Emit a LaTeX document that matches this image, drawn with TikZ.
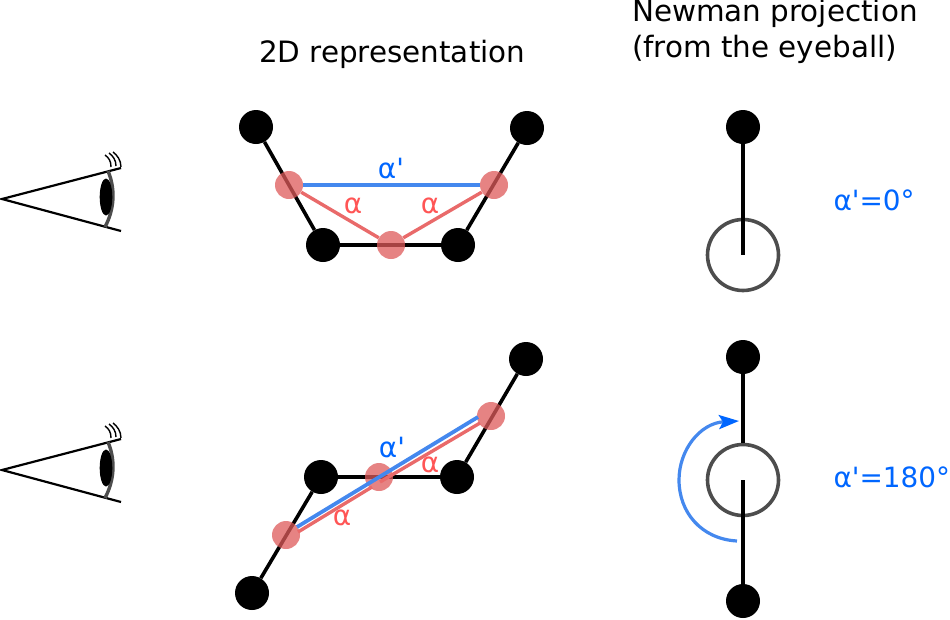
\documentclass[tikz,border=0pt]{standalone}
\usepackage{fontspec}
\setmainfont{DejaVu Sans}
\font\labelfont="DejaVu Sans" at 27.9pt
\usetikzlibrary{arrows.meta}
\definecolor{alphablue}{HTML}{0066FF}
\definecolor{alphared}{HTML}{FF5555}
\definecolor{lineblue}{HTML}{4488EE}
\definecolor{linered}{HTML}{E96A6A}
\definecolor{ballred}{HTML}{DE5A5A}
\definecolor{ringgrey}{HTML}{4D4D4D}
\tikzset{
  atom/.style={circle,fill=black,inner sep=0pt,minimum size=34pt},
  mid/.style={circle,fill=ballred,fill opacity=.75,inner sep=0pt,minimum size=28pt},
  bond/.style={line width=3.6pt,black},
  redline/.style={line width=3.4pt,linered},
  blueline/.style={line width=3.8pt,lineblue},
  ring/.style={circle,draw=ringgrey,line width=3.6pt,inner sep=0pt,minimum size=71pt},
  titletext/.style={font=\fontsize{29.4pt}{36pt}\selectfont,align=left,anchor=west},
  bluetext/.style={font=\labelfont,text=alphablue},
  redtext/.style={font=\labelfont,text=alphared},
  eyeline/.style={line width=2.2pt,black},
  lash/.style={line width=1.4pt,black},
  eyeball/.pic={
    \coordinate (apex) at (2,199);
    \coordinate (upper) at (121,168);
    \coordinate (lower) at (121,231);
    \draw[eyeline] (upper) -- (apex) -- (lower);
    \draw[line width=3.4pt,ringgrey] (108,171) .. controls (116,190) and (114,210) .. (105,227);
    \fill[black] (106,197) ellipse [x radius=6.3,y radius=18.5];
    \draw[lash] (111,167) .. controls (111,161) and (109,158) .. (105,155);
    \draw[lash] (116,166) .. controls (116,160) and (113,156) .. (109,153);
    \draw[lash] (121,167) .. controls (121,160) and (117,155) .. (113,152);
  }
}
\begin{document}
\begin{tikzpicture}[x=1pt,y=-1pt]
\useasboundingbox (0,0) rectangle (950,619);
% titles
\node[titletext] (t2d) at (255.5,54) {2D representation};
\node[titletext] (tnew) at (628.5,31) {Newman projection\\(from the eyeball)};
% eyes
\pic at (0,0) {eyeball};
\pic at (0,271) {eyeball};
% top row, 2D
\node[atom] (a1) at (256,127) {};
\node[atom] (a2) at (323,245) {};
\node[atom] (a3) at (458,245) {};
\node[atom] (a4) at (527,128) {};
\draw[bond] (a1) -- (a2);
\draw[bond] (a2) -- (a3);
\draw[bond] (a3) -- (a4);
\node[mid] (m1) at (289,185) {};
\node[mid] (m2) at (391,245) {};
\node[mid] (m3) at (494,185) {};
\draw[redline] (m1) -- (m2);
\draw[redline] (m2) -- (m3);
\draw[blueline] (m1) -- (m3);
\node[bluetext] (la1) at (391,168) {α'};
\node[redtext] (la2) at (353,206) {α};
\node[redtext] (la3) at (430,206) {α};
% bottom row, 2D
\node[atom] (b1) at (252,593) {};
\node[atom] (b2) at (321,477) {};
\node[atom] (b3) at (457,477) {};
\node[atom] (b4) at (526,359) {};
\draw[bond] (b1) -- (b2);
\draw[bond] (b2) -- (b3);
\draw[bond] (b3) -- (b4);
\node[mid] (n1) at (286,535) {};
\node[mid] (n2) at (379,477) {};
\node[mid] (n3) at (491,416) {};
\coordinate (rs) at (298,532);
\coordinate (rm) at (372,487);
\coordinate (rn) at (380,482);
\coordinate (re) at (480,423);
\coordinate (bs) at (297,527);
\coordinate (be) at (478,417);
\draw[redline] (rs) -- (rm);
\draw[redline] (rn) -- (re);
\draw[blueline] (bs) -- (be);
\node[bluetext] (lb1) at (392,447) {α'};
\node[redtext] (lb2) at (342,518) {α};
\node[redtext] (lb3) at (430,465) {α};
% top Newman
\node[atom] (c1) at (743,127) {};
\node[ring] (c2) at (743,255) {};
\coordinate (cc) at (743,255);
\draw[line width=4pt] (c1) -- (cc);
% bottom Newman
\node[atom] (d1) at (743,357) {};
\node[ring] (d2) at (743,480) {};
\node[atom] (d3) at (743,601) {};
\coordinate (dc) at (743,480);
\draw[line width=4pt] (d1) -- (d2);
\draw[line width=4pt] (dc) -- (d3);
\coordinate (arcs) at (737,541);
\coordinate (arce) at (739,421);
\draw[line width=3.2pt,lineblue,-{Stealth[inset=4pt,length=20pt,width=14pt,color=alphablue]}] (arcs) .. controls (701,539) and (679,512) .. (679,480) .. controls (679,450) and (700,423) .. (arce);
% angle values
\node[bluetext,anchor=west] (v1) at (830,200) {α'=0°};
\node[bluetext,anchor=west] (v2) at (830,477) {α'=180°};
\end{tikzpicture}
\end{document}
